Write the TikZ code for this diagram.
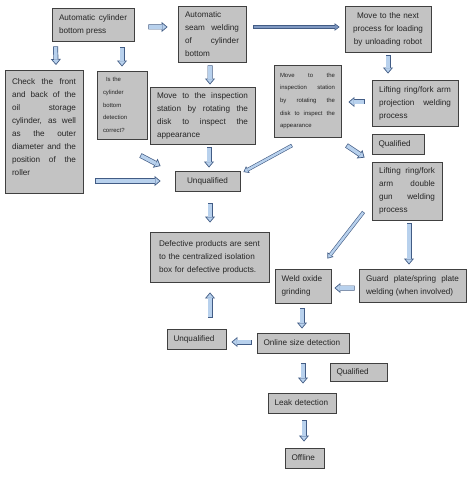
\documentclass[tikz,border=0pt]{standalone}
\usepackage{fontspec}
\setmainfont{Liberation Sans}
\usepackage{xcolor}
\usepackage{tikz}
\usetikzlibrary{arrows.meta}
\definecolor{boxfill}{rgb}{0.765, 0.765, 0.765}
\definecolor{boxline}{rgb}{0.25, 0.25, 0.25}
\definecolor{arrfill}{rgb}{0.72, 0.82, 0.93}
\definecolor{arrline}{rgb}{0.26, 0.36, 0.52}
\definecolor{arrmid}{rgb}{0.50, 0.60, 0.76}
\tikzstyle{box}=[draw=boxline,fill=boxfill,line width=0.9bp,inner xsep=7bp,inner ysep=2bp,font=\fontsize{8.2}{13}\selectfont,align=justify,text=black!85]
\tikzstyle{small box}=[box,font=\fontsize{6}{12.7}\selectfont,inner xsep=6bp]
\tikzstyle{tag}=[box,align=left,inner xsep=6.5bp]
\tikzstyle{barrow}=[draw=arrline,line width=5bp,-{Triangle[length=6bp,width=10bp,line width=0.7bp 0,fill=arrfill]},postaction={draw=arrfill,line width=3.6bp,-,shorten <=0.7bp,shorten >=5.4bp}]
\tikzstyle{thin arrow}=[draw=arrline,line width=3.6bp,-{Triangle[length=5bp,width=7.5bp,line width=0.6bp 0,fill=arrfill]},postaction={draw=arrfill,line width=2.4bp,-,shorten <=0.6bp,shorten >=4.5bp}]
\tikzstyle{long arrow}=[draw=arrline,line width=3.6bp,-{Triangle[length=5bp,width=7.5bp,line width=0.6bp 0,fill=arrmid]},postaction={draw=arrmid,line width=2.4bp,-,shorten <=0.6bp,shorten >=4.5bp}]
\newcommand{\flow}[3][barrow]{
  \draw[#1] (#2) -- (#3);
}

\begin{document}
\begin{tikzpicture}[x=1bp,y=-1bp]
\fill[white] (0,0) rectangle (474,482);
\useasboundingbox (0,0) rectangle (474,482);

% top row
\node[box,text width=68bp,minimum height=33bp] (press) at (93,24.5) {Automatic cylinder\linebreak bottom press};
\node[box,text width=54bp,minimum height=56bp] (seam) at (212,34) {Automatic\linebreak seam welding\linebreak of cylinder\linebreak bottom};
\node[box,align=center,text width=72bp,minimum height=46bp] (robot) at (388,29) {Move to the next\\process for loading\\by unloading robot};

% left branch
\node[box,anchor=north,text height=12bp,text depth=107bp,text width=64bp] (check) at (44,70) {Check the front\linebreak and back of the\linebreak oil storage\linebreak cylinder, as well\linebreak as the outer\linebreak diameter and the\linebreak position of the\linebreak roller};
\node[small box,align=left,text width=38bp,minimum height=68bp] (isdet) at (122,105) {\hspace*{3bp}Is the\\cylinder\\bottom\\detection\\correct?};
\node[box,text width=91bp,minimum height=57bp] (inspA) at (202.5,115.5) {Move to the inspection\linebreak station by rotating the\linebreak disk to inspect the\linebreak appearance};
\node[tag,align=center,text width=52bp,minimum height=20bp] (unqA) at (207.5,181) {Unqualified};

% right branch
\node[small box,text width=55bp,minimum height=72bp] (inspB) at (307.5,101) {Move to the\linebreak inspection station\linebreak by rotating the\linebreak disk to inspect the\linebreak appearance};
\node[box,text width=72bp,minimum height=46bp] (proj) at (415,103) {Lifting ring/fork arm\linebreak projection welding\linebreak process};
\node[tag,text width=39bp,minimum height=20bp] (qualA) at (398,144) {Qualified};
\node[box,text width=56bp,minimum height=58bp] (dgun) at (407,191) {Lifting ring/fork\linebreak arm double\linebreak gun welding\linebreak process};

% lower part
\node[box,align=left,inner xsep=9bp,text width=101bp,minimum height=50bp] (defect) at (209.5,257) {Defective products are sent\\to the centralized isolation\\box for defective products.};
\node[tag,text width=43bp,minimum height=34bp] (grind) at (303,286) {Weld oxide\\grinding};
\node[box,text width=93bp,minimum height=33bp] (guard) at (412.5,285.5) {Guard plate/spring plate\linebreak welding (when involved)};
\node[tag,text width=46bp,minimum height=20bp] (unqB) at (196.5,339) {Unqualified};
\node[tag,text width=79bp,minimum height=20bp] (online) at (303,343) {Online size detection};
\node[tag,text width=44bp,minimum height=18bp] (qualB) at (358.5,372) {Qualified};
\node[tag,text width=55bp,minimum height=20bp] (leak) at (302,403) {Leak detection};
\node[tag,text width=26bp,minimum height=20bp] (offline) at (304.5,458) {Offline};

% arrows
\flow{[shift={(14,2.5)}]press.east}{[shift={(-10,-7)}]seam.west}
\flow{[shift={(4,5)}]press.south west}{[shift={(12,-5)}]check.north}
\flow{[shift={(29,6)}]press.south}{[shift={(0,-4)}]isdet.north}
\flow{[shift={(-2,3)}]seam.south}{[shift={(7.5,-2)}]inspA.north}
\flow[long arrow]{[shift={(7,-7)}]seam.east}{[shift={(-5,-2)}]robot.west}
\flow{[shift={(0,3)}]robot.south}{[shift={(-27,-6)}]proj.north}
\flow{[shift={(-7,-1)}]proj.west}{[shift={(7,1)}]inspB.east}
\flow[thin arrow]{[shift={(-15.5,8)}]inspB.south}{[shift={(3,-9)}]unqA.east}
\flow{[shift={(5,8)}]inspB.south east}{[shift={(-7,-4)}]dgun.north west}
\flow{[shift={(6.5,3)}]inspA.south}{[shift={(1.5,-3)}]unqA.north}
\flow{[shift={(-7,16)}]isdet.south east}{[shift={(-14,-15)}]unqA.west}
\flow{[shift={(12,111)}]check.north east}{[shift={(-14,0)}]unqA.west}
\flow{[shift={(2.5,12)}]unqA.south}{[shift={(0.5,-9)}]defect.north}
\flow{[shift={(13.5,-11)}]unqB.north}{[shift={(0.5,10)}]defect.south}
\flow[thin arrow]{[shift={(-8,21)}]dgun.west}{[shift={(-4,-10)}]grind.north east}
\flow{[shift={(2,3)}]dgun.south}{[shift={(-3.5,-4)}]guard.north}
\flow{[shift={(-4,2.5)}]guard.west}{[shift={(3,2)}]grind.east}
\flow{[shift={(-1,5)}]grind.south}{[shift={(-1,-4)}]online.north}
\flow{[shift={(-5,-1)}]online.west}{[shift={(5,3)}]unqB.east}
\flow{[shift={(0,10)}]online.south}{[shift={(1,-9)}]leak.north}
\flow{[shift={(2,7)}]leak.south}{[shift={(-0.5,-6)}]offline.north}

\end{tikzpicture}
\end{document}
